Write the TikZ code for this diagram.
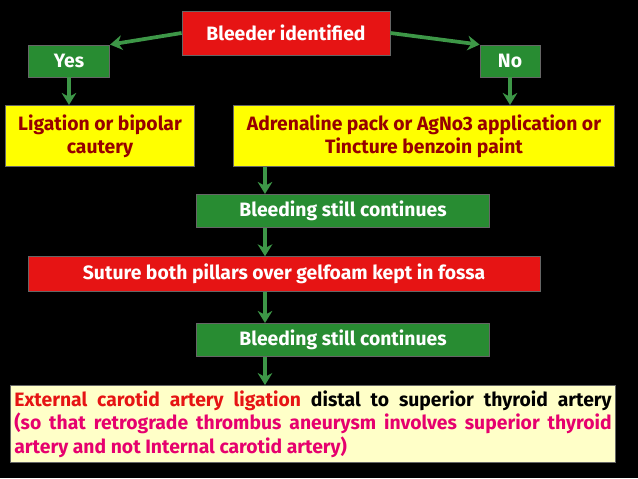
\documentclass[tikz,border=0pt]{standalone}
\usepackage{fontspec}
\setmainfont{Fira Sans}
\usetikzlibrary{positioning,arrows.meta}
\definecolor{boxgreen}{RGB}{40,140,50}
\definecolor{boxred}{RGB}{230,20,20}
\definecolor{boxyellow}{RGB}{255,255,0}
\definecolor{paleyellow}{RGB}{255,255,200}
\definecolor{darkred}{RGB}{150,0,0}
\definecolor{magentatxt}{RGB}{230,0,110}
\tikzset{
  box/.style={draw=black!60, line width=0.6pt, font=\fontsize{14.5}{17.5}\selectfont\bfseries, inner sep=0pt, align=center},
  greenbox/.style={box, fill=boxgreen, text=white},
  redbox/.style={box, fill=boxred, text=white},
  yellowbox/.style={box, fill=boxyellow, text=darkred},
  flow/.style={draw=boxgreen!90!white, line width=2.8pt, ->, >={Stealth[length=9pt,width=11pt]}}
}
\begin{document}
\begin{tikzpicture}[x=0.75pt,y=-0.75pt]
  \fill[black] (0,0) rectangle (638,478);
  % top question
  \node[redbox, minimum width=156pt, minimum height=33pt] (bleed) at (286,33) {Bleeder identified};
  \node[greenbox, minimum width=61pt, minimum height=24pt] (yes) at (69,61) {Yes};
  \node[greenbox, minimum width=45pt, minimum height=24pt] (no) at (510,61) {No};
  % options
  \node[yellowbox, minimum width=142pt, minimum height=46pt] (lig) at (100,136) {Ligation or bipolar\\cautery};
  \node[yellowbox, minimum width=286pt, minimum height=46pt] (adr) at (424,136) {Adrenaline pack or AgNo3 application or\\Tincture benzoin paint};
  % escalation
  \node[greenbox, minimum width=220pt, minimum height=25pt] (cont1) at (343,211) {Bleeding still continues};
  \node[redbox, minimum width=384pt, minimum height=26pt] (sut) at (284,274) {Suture both pillars over gelfoam kept in fossa};
  \node[greenbox, minimum width=220pt, minimum height=25pt] (cont2) at (343,340) {Bleeding still continues};
  \node[box, fill=paleyellow, minimum width=454pt, minimum height=58pt, text width=448pt, align=justify, anchor=north west] (eca) at (10,385)
    {\textcolor{boxred}{External carotid artery ligation} distal to superior thyroid artery\linebreak
     \textcolor{magentatxt}{(so that retrograde thrombus aneurysm involves superior thyroid\linebreak
     artery and not Internal carotid artery)}};
  % connectors
  \coordinate (c1) at (265,0);
  \draw[flow] (bleed.west) -- (yes.north east);
  \draw[flow] (bleed.east) -- (no.north west);
  \draw[flow] (yes) -- (lig.north -| yes);
  \draw[flow] (no) -- (adr.north -| no);
  \draw[flow] (adr.south -| c1) -- (cont1.north -| c1);
  \draw[flow] (cont1.south -| c1) -- (sut.north -| c1);
  \draw[flow] (sut.south -| c1) -- (cont2.north -| c1);
  \draw[flow] (cont2.south -| c1) -- (eca.north -| c1);
\end{tikzpicture}
\end{document}
